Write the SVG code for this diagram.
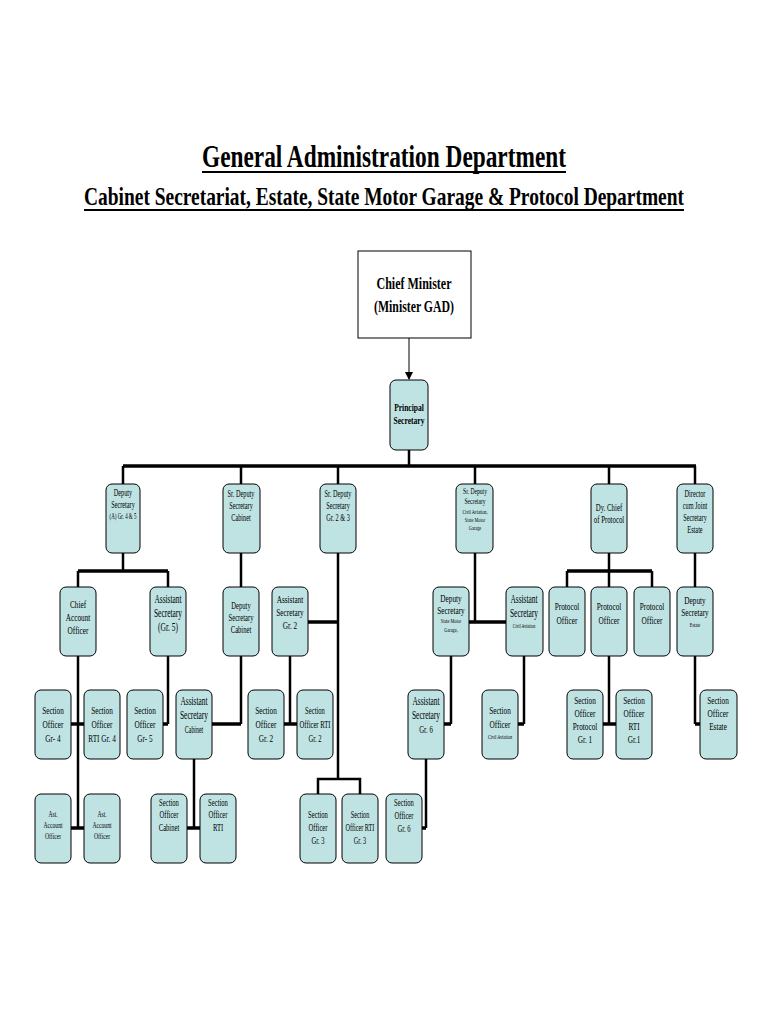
<svg xmlns="http://www.w3.org/2000/svg" width="768" height="1024" viewBox="0 0 768 1024">
<style>
text{font-family:"Liberation Serif","Times New Roman",serif;fill:#000;text-anchor:middle}
.n rect{fill:#bfe3e3;stroke:#000;stroke-width:1}
.t{font-size:11px}
.s{font-size:9.5px}
.xs{font-size:6.5px}
.c path{fill:none;stroke:#000;stroke-width:2.5}
.c .b{stroke-width:3.5}
</style>
<defs><marker id="ar" markerWidth="8" markerHeight="8" refX="7" refY="4" orient="auto" markerUnits="userSpaceOnUse"><path d="M0,0 L8,4 L0,8 z" fill="#000"/></marker></defs>
<text x="384" y="167" font-size="32" font-weight="bold" textLength="364" lengthAdjust="spacingAndGlyphs">General Administration Department</text>
<line x1="202" y1="172" x2="566" y2="172" stroke="#000" stroke-width="2"/>
<text x="384" y="205" font-size="25" font-weight="bold" textLength="600" lengthAdjust="spacingAndGlyphs">Cabinet Secretariat, Estate, State Motor Garage &amp; Protocol Department</text>
<line x1="84" y1="210" x2="684" y2="210" stroke="#000" stroke-width="2"/>

<g class="c">
<path d="M409,338 V379" style="stroke-width:1" marker-end="url(#ar)"/>
<path d="M409,450 V466"/>
<path class="b" d="M123,466 H696"/>
<path d="M123,466 V484 M241,466 V484 M338,466 V484 M475,466 V484 M609,466 V484 M695,466 V484"/>
<path d="M123,553 V571"/>
<path class="b" d="M78,571 H168"/>
<path d="M78,571 V587 M168,571 V587"/>
<path d="M241,553 V587"/>
<path d="M338,553 V779"/>
<path class="b" d="M308,622 H338"/>
<path d="M475,553 V622"/>
<path class="b" d="M469,622 H506"/>
<path d="M609,553 V587"/>
<path class="b" d="M567,571 H652"/>
<path d="M567,571 V587 M652,571 V587"/>
<path d="M695,553 V587"/>
<path d="M78,656 V828"/>
<path class="b" d="M71,724 H84 M71,828 H84"/>
<path d="M168,656 V724"/>
<path class="b" d="M163,724 H168"/>
<path d="M241,656 V724"/>
<path class="b" d="M212,724 H241"/>
<path d="M290,656 V724"/>
<path class="b" d="M284,724 H297"/>
<path d="M451,656 V724"/>
<path class="b" d="M444,724 H451"/>
<path d="M524,656 V724"/>
<path class="b" d="M518,724 H524"/>
<path d="M609,656 V724"/>
<path class="b" d="M603,724 H616"/>
<path d="M695,656 V724"/>
<path class="b" d="M695,724 H700"/>
<path d="M194,759 V828"/>
<path class="b" d="M187,828 H200"/>
<path d="M318,794 V779 H360 V794"/>
<path d="M426,759 V828"/>
<path class="b" d="M422,828 H426"/>
</g>

<g id="chief-minister"><rect x="358" y="251" width="113" height="87" fill="#fff" stroke="#000" stroke-width="1"/>
<text x="414" y="289" font-size="16" font-weight="bold" textLength="75" lengthAdjust="spacingAndGlyphs">Chief Minister</text>
<text x="414" y="312" font-size="16" font-weight="bold" textLength="80" lengthAdjust="spacingAndGlyphs">(Minister GAD)</text></g>
<g id="principal-secretary" class="n"><rect x="390" y="380" width="38" height="70" rx="6"/>
<text transform="translate(409,0) scale(0.72,1)" font-size="10.5" font-weight="bold"><tspan x="0" y="411">Principal</tspan><tspan x="0" y="424">Secretary</tspan></text></g>

<g id="ds-a" class="n"><rect x="106" y="484" width="34" height="69" rx="6"/>
<text transform="translate(123,0) scale(0.66,1)"><tspan class="s" x="0" y="496">Deputy</tspan><tspan class="s" x="0" y="508">Secretary</tspan><tspan class="xs" style="font-size:7.5px" x="0" y="519">(A) Gr. 4 &amp; 5</tspan></text></g>
<g id="sds-cabinet" class="n"><rect x="223" y="484" width="37" height="69" rx="6"/>
<text class="s" transform="translate(241,0) scale(0.66,1)"><tspan x="0" y="497">Sr. Deputy</tspan><tspan x="0" y="509">Secretary</tspan><tspan x="0" y="521">Cabinet</tspan></text></g>
<g id="sds-gr23" class="n"><rect x="320" y="484" width="36" height="69" rx="6"/>
<text class="s" transform="translate(338,0) scale(0.66,1)"><tspan x="0" y="497">Sr. Deputy</tspan><tspan x="0" y="509">Secretary</tspan><tspan x="0" y="521">Gr. 2 &amp; 3</tspan></text></g>
<g id="sds-ca" class="n"><rect x="456" y="484" width="37" height="69" rx="6"/>
<text transform="translate(475,0) scale(0.66,1)"><tspan class="s" style="font-size:8.5px" x="0" y="494">Sr. Deputy</tspan><tspan class="s" style="font-size:8.5px" x="0" y="504">Secretary</tspan><tspan class="xs" x="0" y="514">Civil Aviation,</tspan><tspan class="xs" x="0" y="522">State Motor</tspan><tspan class="xs" x="0" y="530">Garage</tspan></text></g>
<g id="dy-chief-protocol" class="n"><rect x="591" y="484" width="36" height="69" rx="6"/>
<text class="t" transform="translate(609,0) scale(0.62,1)"><tspan x="0" y="511">Dy. Chief</tspan><tspan x="0" y="523">of Protocol</tspan></text></g>
<g id="director-estate" class="n"><rect x="677" y="484" width="36" height="69" rx="6"/>
<text class="s" transform="translate(695,0) scale(0.66,1)"><tspan x="0" y="497">Director</tspan><tspan x="0" y="509">cum Joint</tspan><tspan x="0" y="521">Secretary</tspan><tspan x="0" y="533">Estate</tspan></text></g>

<g id="chief-account-officer" class="n"><rect x="60" y="587" width="36" height="69" rx="6"/>
<text class="t" transform="translate(78,0) scale(0.66,1)"><tspan x="0" y="608">Chief</tspan><tspan x="0" y="621">Account</tspan><tspan x="0" y="634">Officer</tspan></text></g>
<g id="as-gr5" class="n"><rect x="150" y="587" width="36" height="69" rx="6"/>
<text class="t" transform="translate(168,0) scale(0.62,1)" style="font-size:12px"><tspan x="0" y="603">Assistant</tspan><tspan x="0" y="617">Secretary</tspan><tspan x="0" y="631">(Gr. 5)</tspan></text></g>
<g id="ds-cabinet" class="n"><rect x="223" y="587" width="36" height="69" rx="6"/>
<text class="s" style="font-size:10px" transform="translate(241,0) scale(0.66,1)"><tspan x="0" y="609">Deputy</tspan><tspan x="0" y="621">Secretary</tspan><tspan x="0" y="633">Cabinet</tspan></text></g>
<g id="as-gr2" class="n"><rect x="272" y="587" width="36" height="69" rx="6"/>
<text class="t" transform="translate(290,0) scale(0.66,1)"><tspan x="0" y="603">Assistant</tspan><tspan x="0" y="616">Secretary</tspan><tspan x="0" y="629">Gr. 2</tspan></text></g>
<g id="ds-smg" class="n"><rect x="433" y="587" width="36" height="69" rx="6"/>
<text transform="translate(451,0) scale(0.66,1)"><tspan class="t" x="0" y="602">Deputy</tspan><tspan class="t" x="0" y="614">Secretary</tspan><tspan class="xs" x="0" y="623">State Motor</tspan><tspan class="xs" x="0" y="632">Garage,</tspan></text></g>
<g id="as-ca" class="n"><rect x="506" y="587" width="37" height="69" rx="6"/>
<text transform="translate(524,0) scale(0.62,1)"><tspan class="t" style="font-size:12px" x="0" y="603">Assistant</tspan><tspan class="t" style="font-size:12px" x="0" y="617">Secretary</tspan><tspan class="xs" x="0" y="628">Civil Aviation</tspan></text></g>
<g id="po-1" class="n"><rect x="549" y="587" width="36" height="69" rx="6"/>
<text class="t" transform="translate(567,0) scale(0.66,1)"><tspan x="0" y="610">Protocol</tspan><tspan x="0" y="624">Officer</tspan></text></g>
<g id="po-2" class="n"><rect x="591" y="587" width="36" height="69" rx="6"/>
<text class="t" transform="translate(609,0) scale(0.66,1)"><tspan x="0" y="610">Protocol</tspan><tspan x="0" y="624">Officer</tspan></text></g>
<g id="po-3" class="n"><rect x="634" y="587" width="36" height="69" rx="6"/>
<text class="t" transform="translate(652,0) scale(0.66,1)"><tspan x="0" y="610">Protocol</tspan><tspan x="0" y="624">Officer</tspan></text></g>
<g id="ds-estate" class="n"><rect x="677" y="587" width="36" height="69" rx="6"/>
<text transform="translate(695,0) scale(0.66,1)"><tspan class="t" x="0" y="604">Deputy</tspan><tspan class="t" x="0" y="616">Secretary</tspan><tspan class="xs" x="0" y="627">Estate</tspan></text></g>

<g id="so-gr4" class="n"><rect x="35" y="690" width="36" height="69" rx="6"/>
<text class="t" transform="translate(53,0) scale(0.66,1)"><tspan x="0" y="714">Section</tspan><tspan x="0" y="728">Officer</tspan><tspan x="0" y="742">Gr- 4</tspan></text></g>
<g id="so-rti-gr4" class="n"><rect x="84" y="690" width="36" height="69" rx="6"/>
<text class="t" transform="translate(102,0) scale(0.66,1)"><tspan x="0" y="714">Section</tspan><tspan x="0" y="728">Officer</tspan><tspan x="0" y="742">RTI Gr. 4</tspan></text></g>
<g id="so-gr5" class="n"><rect x="127" y="690" width="36" height="69" rx="6"/>
<text class="t" transform="translate(145,0) scale(0.66,1)"><tspan x="0" y="714">Section</tspan><tspan x="0" y="728">Officer</tspan><tspan x="0" y="742">Gr- 5</tspan></text></g>
<g id="as-cabinet" class="n"><rect x="176" y="690" width="36" height="69" rx="6"/>
<text transform="translate(194,0) scale(0.62,1)"><tspan class="t" style="font-size:12px" x="0" y="705">Assistant</tspan><tspan class="t" style="font-size:12px" x="0" y="719">Secretary</tspan><tspan class="s" x="0" y="733">Cabinet</tspan></text></g>
<g id="so-gr2" class="n"><rect x="248" y="690" width="36" height="69" rx="6"/>
<text class="t" transform="translate(266,0) scale(0.66,1)"><tspan x="0" y="714">Section</tspan><tspan x="0" y="728">Officer</tspan><tspan x="0" y="742">Gr. 2</tspan></text></g>
<g id="so-rti-gr2" class="n"><rect x="297" y="690" width="36" height="69" rx="6"/>
<text class="t" transform="translate(315,0) scale(0.6,1)"><tspan x="0" y="714">Section</tspan><tspan x="0" y="728">Officer RTI</tspan><tspan x="0" y="742">Gr. 2</tspan></text></g>
<g id="as-gr6" class="n"><rect x="408" y="690" width="36" height="69" rx="6"/>
<text class="t" transform="translate(426,0) scale(0.62,1)"><tspan x="0" y="705" style="font-size:12px">Assistant</tspan><tspan x="0" y="719" style="font-size:12px">Secretary</tspan><tspan x="0" y="733">Gr. 6</tspan></text></g>
<g id="so-ca" class="n"><rect x="482" y="690" width="36" height="69" rx="6"/>
<text transform="translate(500,0) scale(0.66,1)"><tspan class="t" x="0" y="714">Section</tspan><tspan class="t" x="0" y="728">Officer</tspan><tspan class="xs" x="0" y="739">Civil Aviation</tspan></text></g>
<g id="so-protocol-gr1" class="n"><rect x="567" y="690" width="36" height="69" rx="6"/>
<text class="t" transform="translate(585,0) scale(0.66,1)"><tspan x="0" y="704">Section</tspan><tspan x="0" y="717">Officer</tspan><tspan x="0" y="730">Protocol</tspan><tspan x="0" y="743">Gr. 1</tspan></text></g>
<g id="so-rti-gr1" class="n"><rect x="616" y="690" width="36" height="69" rx="6"/>
<text class="t" transform="translate(634,0) scale(0.66,1)"><tspan x="0" y="704">Section</tspan><tspan x="0" y="717">Officer</tspan><tspan x="0" y="730">RTI</tspan><tspan x="0" y="743">Gr.1</tspan></text></g>
<g id="so-estate" class="n"><rect x="700" y="690" width="37" height="69" rx="6"/>
<text class="t" transform="translate(718,0) scale(0.66,1)"><tspan x="0" y="704">Section</tspan><tspan x="0" y="717">Officer</tspan><tspan x="0" y="730">Estate</tspan></text></g>

<g id="aao-1" class="n"><rect x="35" y="794" width="36" height="69" rx="6"/>
<text class="s" style="font-size:8.5px" transform="translate(53,0) scale(0.66,1)"><tspan x="0" y="817">Ast.</tspan><tspan x="0" y="828">Account</tspan><tspan x="0" y="839">Officer</tspan></text></g>
<g id="aao-2" class="n"><rect x="84" y="794" width="36" height="69" rx="6"/>
<text class="s" style="font-size:8.5px" transform="translate(102,0) scale(0.66,1)"><tspan x="0" y="817">Ast.</tspan><tspan x="0" y="828">Account</tspan><tspan x="0" y="839">Officer</tspan></text></g>
<g id="so-cabinet" class="n"><rect x="151" y="794" width="36" height="69" rx="6"/>
<text class="s" style="font-size:10px" transform="translate(169,0) scale(0.66,1)"><tspan x="0" y="806">Section</tspan><tspan x="0" y="818">Officer</tspan><tspan x="0" y="831">Cabinet</tspan></text></g>
<g id="so-rti-cabinet" class="n"><rect x="200" y="794" width="36" height="69" rx="6"/>
<text class="s" style="font-size:10px" transform="translate(218,0) scale(0.66,1)"><tspan x="0" y="806">Section</tspan><tspan x="0" y="818">Officer</tspan><tspan x="0" y="831">RTI</tspan></text></g>
<g id="so-gr3" class="n"><rect x="300" y="794" width="36" height="69" rx="6"/>
<text class="s" style="font-size:10px" transform="translate(318,0) scale(0.66,1)"><tspan x="0" y="818">Section</tspan><tspan x="0" y="831">Officer</tspan><tspan x="0" y="844">Gr. 3</tspan></text></g>
<g id="so-rti-gr3" class="n"><rect x="342" y="794" width="36" height="69" rx="6"/>
<text class="s" style="font-size:10px" transform="translate(360,0) scale(0.62,1)"><tspan x="0" y="818">Section</tspan><tspan x="0" y="831">Officer RTI</tspan><tspan x="0" y="844">Gr. 3</tspan></text></g>
<g id="so-gr6" class="n"><rect x="386" y="794" width="36" height="69" rx="6"/>
<text class="s" style="font-size:10px" transform="translate(404,0) scale(0.66,1)"><tspan x="0" y="806">Section</tspan><tspan x="0" y="819">Officer</tspan><tspan x="0" y="832">Gr. 6</tspan></text></g>
</svg>
